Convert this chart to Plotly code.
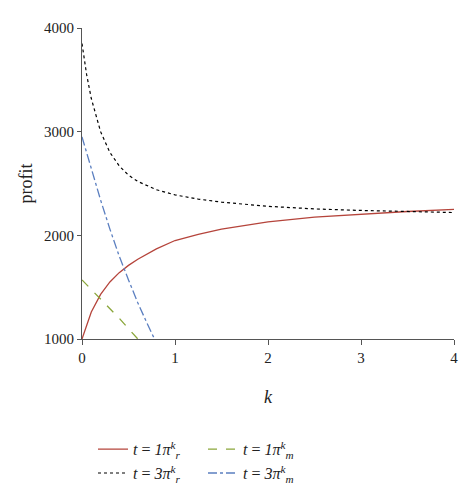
import plotly.graph_objects as go

k = [0, 0.05, 0.1, 0.2, 0.3, 0.4, 0.5, 0.6, 0.8, 1.0, 1.25, 1.5, 2.0, 2.5, 3.0, 3.5, 4.0]
pi_r_t1 = [1000, 1140, 1260, 1430, 1550, 1640, 1710, 1770, 1870, 1950, 2010, 2060, 2130, 2175, 2205, 2230, 2250]
pi_r_t3 = [3850, 3550, 3320, 3000, 2800, 2670, 2580, 2520, 2440, 2390, 2350, 2320, 2280, 2255, 2240, 2230, 2220]

k_m1 = [0, 0.1, 0.2, 0.3, 0.4, 0.5, 0.6]
pi_m_t1 = [1570, 1480, 1390, 1300, 1200, 1100, 1000]

k_m3 = [0, 0.1, 0.2, 0.3, 0.4, 0.5, 0.6, 0.7, 0.78]
pi_m_t3 = [2950, 2640, 2340, 2060, 1800, 1570, 1350, 1150, 1000]

fig = go.Figure()
fig.add_trace(go.Scatter(x=k, y=pi_r_t1, mode="lines", line=dict(color="#b5443b", width=1.3),
                         name="<i>t</i> = <i>1π<sup>k</sup><sub>r</sub></i>"))
fig.add_trace(go.Scatter(x=k_m1, y=pi_m_t1, mode="lines", line=dict(color="#8aa63a", width=1.3, dash="dash"),
                         name="<i>t</i> = <i>1π<sup>k</sup><sub>m</sub></i>"))
fig.add_trace(go.Scatter(x=k, y=pi_r_t3, mode="lines", line=dict(color="black", width=1.2, dash="dot"),
                         name="<i>t</i> = <i>3π<sup>k</sup><sub>r</sub></i>"))
fig.add_trace(go.Scatter(x=k_m3, y=pi_m_t3, mode="lines", line=dict(color="#5b7fc0", width=1.3, dash="dashdot"),
                         name="<i>t</i> = <i>3π<sup>k</sup><sub>m</sub></i>"))

fig.update_layout(
    width=474, height=495,
    margin=dict(l=74, r=28, t=17, b=119),
    paper_bgcolor="white", plot_bgcolor="white",
    font=dict(family="Liberation Serif, serif", size=15, color="#222"),
    showlegend=True,
    legend=dict(orientation="h", x=0.05, y=-0.3, xanchor="left", yanchor="top",
                entrywidth=0.5, entrywidthmode="fraction", font=dict(size=16)),
    xaxis=dict(range=[0, 4], tickvals=[0, 1, 2, 3, 4], showline=True, linecolor="#555",
               ticks="outside", ticklen=5, tickcolor="#555", showgrid=False, zeroline=False,
               title=dict(text="<i>k</i>", standoff=25)),
    yaxis=dict(range=[1000, 4000], tickvals=[1000, 2000, 3000, 4000], showline=True, linecolor="#555",
               ticks="outside", ticklen=4, tickcolor="#555", showgrid=False, zeroline=False,
               title=dict(text="profit", standoff=6)),
)

fig.write_html("out.html")
